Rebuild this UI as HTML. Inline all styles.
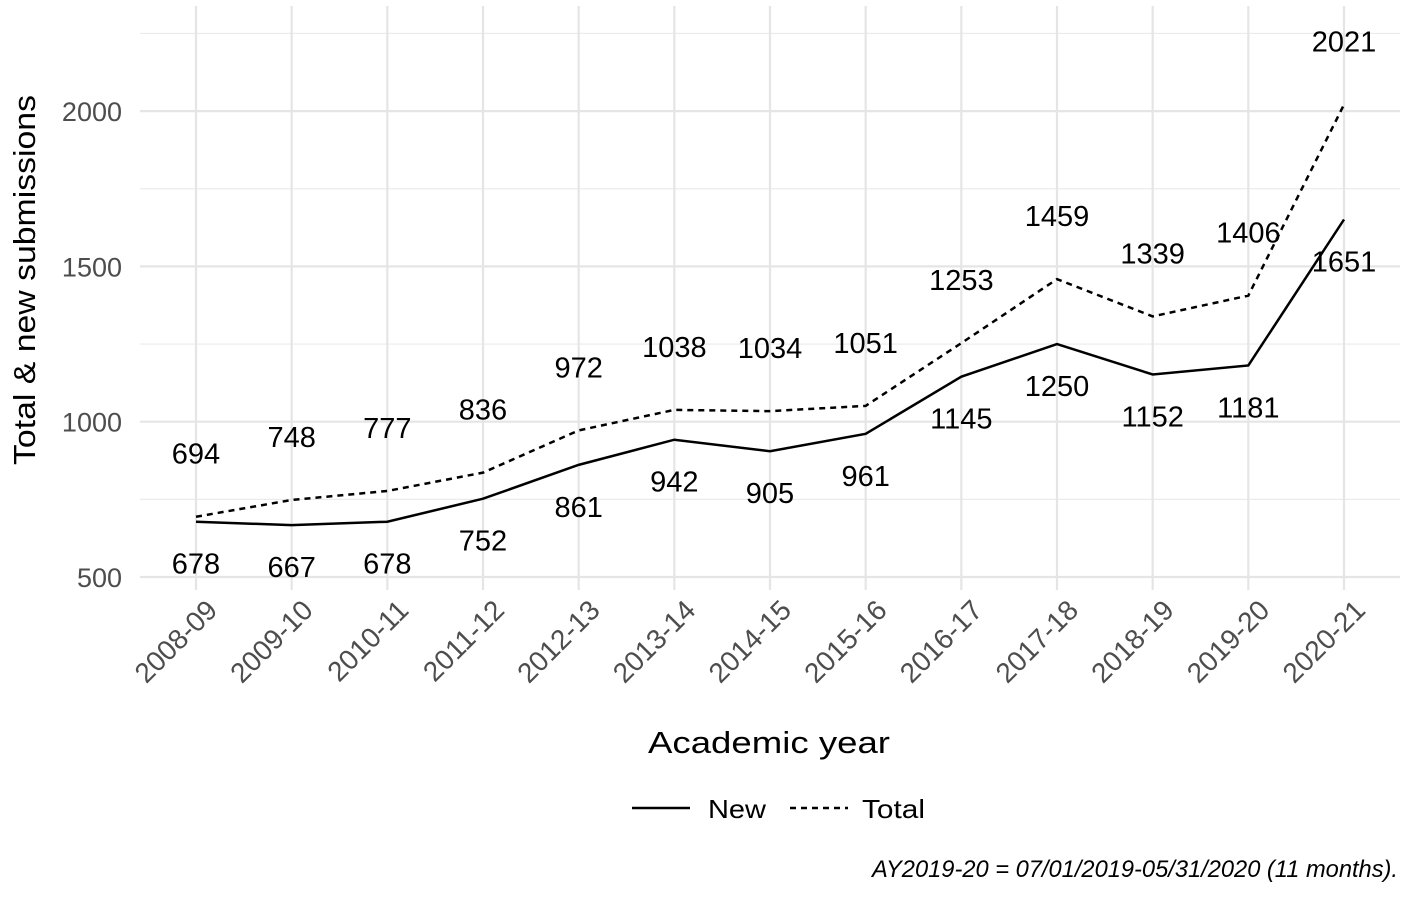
<!DOCTYPE html>
<html><head><meta charset="utf-8"><style>
html,body{margin:0;padding:0;background:#fff;}
svg text{font-family:"Liberation Sans",Arial,sans-serif;}
</style></head><body>
<svg width="1408" height="893" viewBox="0 0 1408 893" xmlns="http://www.w3.org/2000/svg">
<g id="grid"></g>
<g id="yticks"></g>
<g id="xticks"></g>
<g id="series"></g>
<g id="labels"></g>
<text transform="translate(35,280) rotate(-90)" text-anchor="middle" font-size="31" textLength="370" lengthAdjust="spacingAndGlyphs" fill="#000">Total &amp; new submissions</text>
<text x="769" y="753" text-anchor="middle" font-size="31" textLength="242" lengthAdjust="spacingAndGlyphs" fill="#000">Academic year</text>
<g>
<line x1="632" y1="808" x2="690" y2="808" stroke="#000" stroke-width="2.5"/>
<text x="708" y="818" font-size="26" textLength="58" lengthAdjust="spacingAndGlyphs">New</text>
<line x1="790" y1="808" x2="848" y2="808" stroke="#000" stroke-width="2.5" stroke-dasharray="6,5"/>
<text x="862" y="818" font-size="26" textLength="63" lengthAdjust="spacingAndGlyphs">Total</text>
</g>
<text x="1398" y="877" text-anchor="end" font-size="24" textLength="526" lengthAdjust="spacingAndGlyphs" font-style="italic" fill="#000">AY2019-20 = 07/01/2019-05/31/2020 (11 months).</text>
</svg>
<script>
const categories=["2008-09","2009-10","2010-11","2011-12","2012-13","2013-14","2014-15","2015-16","2016-17","2017-18","2018-19","2019-20","2020-21"];
const newValues=[678,667,678,752,861,942,905,961,1145,1250,1152,1181,1651];
const totalValues=[694,748,777,836,972,1038,1034,1051,1253,1459,1339,1406,2021];
const yTicks=[500,1000,1500,2000];
const yMinor=[750,1250,1750,2250];
const NS="http://www.w3.org/2000/svg";
const x0=196,dx=(1344-196)/12;
function xs(i){return x0+i*dx;}
function ys(v){return 577-(v-500)*(155.3/500);}
function mk(tag,attrs,parent){const e=document.createElementNS(NS,tag);for(const k in attrs)e.setAttribute(k,attrs[k]);parent.appendChild(e);return e;}
const grid=document.getElementById('grid');
yMinor.forEach(v=>{const l=mk('line',{x1:140,x2:1400,y1:ys(v),y2:ys(v),stroke:'#ebebeb','stroke-width':1.2},grid);

});
yTicks.forEach(v=>{const l=mk('line',{x1:140,x2:1400,y1:ys(v),y2:ys(v),stroke:'#e5e5e5','stroke-width':2.2},grid);

});
categories.forEach((c,i)=>{const l=mk('line',{x1:xs(i),x2:xs(i),y1:6,y2:590,stroke:'#e5e5e5','stroke-width':2.2},grid);

});
const yt=document.getElementById('yticks');
yTicks.forEach(v=>{const t=mk('text',{x:122,y:ys(v)+10,'text-anchor':'end','font-size':27,fill:'#4d4d4d'},yt);t.textContent=v;

});
const xt=document.getElementById('xticks');
categories.forEach((c,i)=>{const t=mk('text',{transform:`translate(${xs(i)+9},${598}) rotate(-45)`,'text-anchor':'end','font-size':28,fill:'#4d4d4d',dy:'0.7em'},xt);t.textContent=c;

});
const s=document.getElementById('series');
function pts(arr){return arr.map((v,i)=>xs(i)+','+ys(v)).join(' ');}
const pt=mk('polyline',{points:pts(totalValues),fill:'none',stroke:'#000','stroke-width':2.5,'stroke-dasharray':'6,5'},s);


const pn=mk('polyline',{points:pts(newValues),fill:'none',stroke:'#000','stroke-width':2.5},s);


const lb=document.getElementById('labels');
newValues.forEach((v,i)=>{const t=mk('text',{x:xs(i),y:ys(v)+42+10,'text-anchor':'middle','font-size':29,fill:'#000'},lb);t.textContent=v;

});
totalValues.forEach((v,i)=>{const t=mk('text',{x:xs(i),y:ys(v)-63+10,'text-anchor':'middle','font-size':29,fill:'#000'},lb);t.textContent=v;

});
</script>
</body></html>
